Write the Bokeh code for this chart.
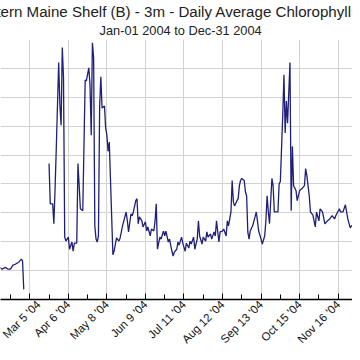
import math
from bokeh.plotting import figure
from bokeh.models import FixedTicker, Title, Range1d
from bokeh.embed import file_html
from bokeh.resources import INLINE

title_text = "Western Maine Shelf (B) - 3m - Daily Average Chlorophyll"
subtitle_text = "Jan-01 2004 to Dec-31 2004"

# winter segment (day of year, 0 = Jan 1 2004)
winter_days = [33, 36, 39, 41, 44, 46, 48, 50, 52, 55, 57, 58, 59]
winter_chl = [1.40, 1.16, 1.11, 1.05, 1.11, 1.05, 1.05, 1.19, 1.22, 1.30, 1.40, 1.34, 0.35]

# main segment after the data gap
main_days = [80, 81, 83, 84, 85, 86, 88, 89, 90, 91, 92, 93, 94, 96, 97, 99, 100, 101, 103,
             104, 105, 106, 108, 110, 111, 113, 114, 115, 116, 117, 118, 119, 120, 121, 122,
             123, 124, 126, 127, 128, 129, 130, 133, 134, 136, 138, 139, 141, 144, 145, 146,
             148, 149, 150, 152, 153, 154, 155, 157, 158, 160, 161, 162, 164, 165, 167, 168,
             169, 170, 172, 173, 175, 176, 177, 179, 180, 182, 183, 184, 186, 187, 188, 190,
             191, 193, 194, 196, 197, 198, 200, 201, 203, 204, 205, 207, 208, 210, 211, 212,
             214, 215, 217, 218, 219, 221, 222, 224, 225, 227, 228, 229, 231, 232, 233, 234,
             236, 237, 238, 239, 240, 242, 243, 244, 245, 246, 247, 249, 251, 252, 253, 254,
             256, 257, 259, 260, 261, 262, 263, 265, 266, 267, 270, 271, 272, 274, 275, 276,
             277, 278, 280, 281, 282, 283, 285, 286, 288, 290, 292, 293, 294, 296, 297, 299,
             301, 302, 304, 305, 307, 309, 311, 313, 315, 317, 318, 321, 322, 324, 326, 328,
             330, 331, 333]
main_chl = [4.71, 3.31, 3.31, 2.62, 3.84, 5.23, 8.20, 6.73, 6.03, 8.72, 7.67, 2.16, 2.02, 2.16,
            1.74, 1.99, 1.67, 1.95, 1.95, 4.71, 3.94, 3.14, 3.07, 7.60, 7.57, 8.02, 7.43, 5.69,
            8.89, 8.37, 2.55, 2.09, 1.99, 2.20, 6.70, 7.71, 6.63, 6.70, 5.93, 5.69, 5.13, 5.45,
            1.55, 1.67, 2.13, 2.02, 2.13, 2.55, 3.03, 2.72, 2.34, 2.96, 2.90, 3.03, 3.42, 3.49,
            2.62, 2.86, 2.72, 2.51, 2.69, 2.37, 2.51, 2.20, 2.44, 2.37, 2.72, 3.31, 1.74, 2.16,
            2.09, 2.37, 2.20, 2.37, 1.99, 2.09, 1.67, 1.50, 1.64, 1.74, 1.99, 1.88, 2.16, 1.95,
            1.67, 1.95, 1.78, 2.02, 1.92, 2.16, 1.74, 2.09, 2.72, 2.20, 1.92, 2.16, 2.02, 2.34,
            2.16, 2.27, 2.09, 2.34, 2.20, 2.72, 1.99, 2.34, 2.37, 2.44, 2.20, 2.72, 2.55, 3.03,
            4.12, 3.38, 3.24, 3.42, 3.49, 3.94, 4.12, 4.19, 4.12, 3.73, 3.59, 2.34, 2.09, 2.37,
            2.55, 2.86, 3.03, 2.72, 2.37, 2.09, 1.92, 2.20, 2.72, 3.59, 3.05, 2.62, 4.19, 3.94,
            3.03, 3.03, 4.01, 4.08, 6.38, 7.78, 5.76, 6.87, 6.10, 8.20, 3.07, 5.30, 3.94, 3.77,
            3.42, 3.77, 3.84, 3.94, 4.53, 4.29, 3.59, 3.03, 2.93, 2.51, 3.03, 2.72, 3.14, 3.03,
            2.62, 2.72, 2.79, 2.90, 2.79, 2.90, 3.14, 3.03, 3.03, 3.28, 2.79, 2.48, 2.55, 2.58]

tick_days = [0, 32, 64, 96, 128, 160, 192, 224, 256, 288, 320, 352]
tick_labels = ["Jan 1 '04", "Feb 2 '04", "Mar 5 '04", "Apr 6 '04", "May 8 '04", "Jun 9 '04",
               "Jul 11 '04", "Aug 12 '04", "Sep 13 '04", "Oct 15 '04", "Nov 16 '04", "Dec 18 '04"]
minor_days = [16, 48, 80, 112, 144, 176, 208, 240, 272, 304, 336]
y_grid_values = [0, 1, 2, 3, 4, 5, 6, 7, 8, 9]

FONT = "Liberation Sans"
LINE_COLOR = "#1f1f7a"

p = figure(width=352, height=352, output_backend="svg", toolbar_location=None,
           x_range=Range1d(39.7, 331.9), y_range=Range1d(0, 9),
           min_border_left=0, min_border_right=0, min_border_top=0, min_border_bottom=52,
           title=title_text)
p.title.text_font = FONT
p.title.text_font_size = "15.1px"
p.title.text_font_style = "normal"
p.title.text_color = "#222222"
p.title.align = "left"
p.title.offset = -34
p.title.standoff = 0
p.add_layout(Title(text=subtitle_text, align="left", text_font=FONT, text_font_size="12.8px",
                   text_font_style="normal", text_color="#222222", offset=99, standoff=3), "above")

p.line(winter_days, winter_chl, line_color=LINE_COLOR, line_width=1.3)
p.line(main_days, main_chl, line_color=LINE_COLOR, line_width=1.3)

p.xaxis.axis_label = None
p.xaxis.axis_label_standoff = 0
p.xaxis.ticker = FixedTicker(ticks=tick_days, minor_ticks=minor_days)
p.xaxis.major_label_overrides = {d: lab for d, lab in zip(tick_days, tick_labels)}
p.xaxis.major_label_orientation = math.pi / 4
p.xaxis.major_label_text_font = FONT
p.xaxis.major_label_text_font_size = "11.5px"
p.xaxis.major_label_text_color = "#111111"
p.xaxis.major_label_standoff = 3
p.xaxis.axis_line_color = "black"
p.xaxis.axis_line_width = 1.5
p.xaxis.major_tick_in = 6
p.xaxis.major_tick_out = 0
p.xaxis.minor_tick_in = 5
p.xaxis.minor_tick_out = 0
p.xaxis.major_tick_line_color = "black"
p.xaxis.minor_tick_line_color = "black"

p.yaxis.ticker = FixedTicker(ticks=y_grid_values)
p.yaxis.visible = False

p.xgrid.grid_line_color = "#d2d2d2"
p.ygrid.grid_line_color = "#d2d2d2"
p.outline_line_color = None
p.background_fill_color = "white"
p.border_fill_color = "white"

open("out.html", "w").write(file_html(p, INLINE))
